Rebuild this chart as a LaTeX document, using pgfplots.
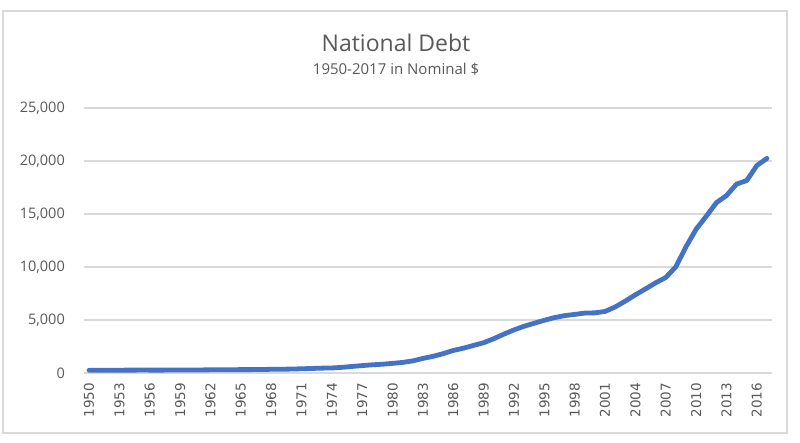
\documentclass[border=0pt]{standalone}
\usepackage{pgfplots}
\pgfplotsset{compat=1.18}
\usepackage{fontspec}
\setmainfont{Open Sans}
\newfontfamily\dejavu{DejaVu Sans}
\definecolor{lineblue}{HTML}{4472C4}
\definecolor{gridgray}{HTML}{D9D9D9}
\definecolor{textgray}{HTML}{595959}
\pgfplotstableread{
year debt
1950 257
1951 255
1952 259
1953 266
1954 271
1955 274
1956 273
1957 271
1958 276
1959 285
1960 286
1961 289
1962 298
1963 306
1964 312
1965 317
1966 320
1967 326
1968 348
1969 354
1970 371
1971 398
1972 427
1973 458
1974 475
1975 533
1976 620
1977 699
1978 772
1979 827
1980 908
1981 998
1982 1142
1983 1377
1984 1572
1985 1823
1986 2125
1987 2340
1988 2602
1989 2857
1990 3233
1991 3665
1992 4065
1993 4411
1994 4693
1995 4974
1996 5225
1997 5413
1998 5526
1999 5656
2000 5674
2001 5807
2002 6228
2003 6783
2004 7379
2005 7933
2006 8507
2007 9008
2008 10025
2009 11910
2010 13562
2011 14790
2012 16066
2013 16738
2014 17824
2015 18151
2016 19573
2017 20245
}\debttable
\begin{document}
\begin{tikzpicture}[x=1pt,y=1pt]
\useasboundingbox (0,0) rectangle (800,443);
\fill[white] (0,0) rectangle (800,443);
\draw[gridgray, line width=1.5pt] (3,10) rectangle (787,432);
\node[anchor=base, text=textgray, font=\fontsize{23}{26}\selectfont] at (396,391) {National Debt};
\node[anchor=base, text=textgray, font=\fontsize{15}{18}\selectfont] at (396,368) {1950-2017 in Nominal \$};
\begin{axis}[
  at={(84pt,70pt)}, anchor=south west,
  scale only axis, width=688pt, height=265pt,
  xmin=1949.5, xmax=2017.5, ymin=0, ymax=25000,
  enlargelimits=false,
  axis line style={draw=none},
  tick style={draw=none},
  ymajorgrids, grid style={gridgray, line width=1.5pt},
  xtick={1950,1953,...,2016},
  ytick={0,5000,10000,15000,20000,25000},
  scaled y ticks=false,
  xticklabel style={/pgf/number format/assume math mode=true, /pgf/number format/1000 sep={}, rotate=90, anchor=east, inner sep=0pt, font=\dejavu\fontsize{13.5}{15}\selectfont, text=textgray},
  xticklabel shift=10pt,
  yticklabel style={/pgf/number format/assume math mode=true, /pgf/number format/1000 sep={,}, anchor=east, inner sep=0pt, font=\fontsize{14.5}{17}\selectfont, text=textgray},
  yticklabel shift=19pt,
]
\addplot[lineblue, line width=4.8pt, line join=round, line cap=round] table[x=year, y=debt] {\debttable};
\end{axis}
\end{tikzpicture}
\end{document}
